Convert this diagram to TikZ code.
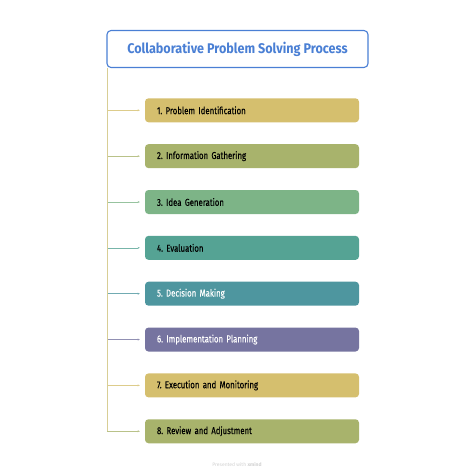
\documentclass[tikz,border=0pt]{standalone}
\usepackage{fontspec}
\setmainfont{Fira Sans}[FakeStretch=0.78,FakeBold=0.25,WordSpace=0.7]
\newfontfamily\titlefont{Fira Sans}[FakeStretch=0.9]
\newfontfamily\footfont{Fira Sans}
\usetikzlibrary{arrows.meta}
\definecolor{cA}{HTML}{D5BF6E}
\definecolor{cB}{HTML}{A8B36C}
\definecolor{cC}{HTML}{7DB487}
\definecolor{cD}{HTML}{55A394}
\definecolor{cE}{HTML}{4E969F}
\definecolor{cF}{HTML}{7674A0}
\definecolor{trunk}{HTML}{D8CE95}
\definecolor{titleblue}{HTML}{4A7FD4}
\tikzset{
  stepbox/.style={draw=none, rounded corners=3.5pt, minimum width=214pt, minimum height=24pt,
    text width=190pt, align=left, inner sep=0pt, font=\fontsize{10}{12}\selectfont},
  branch/.style={line width=0.6pt, -{Stealth[length=2.2pt,width=2pt]}},
  titlebox/.style={draw=titleblue, line width=1.1pt, rounded corners=4pt, minimum width=261pt,
    minimum height=37pt, inner sep=0pt, text=titleblue, font=\titlefont\bfseries\fontsize{14}{16}\selectfont}
}
\begin{document}
\frenchspacing
\begin{tikzpicture}[x=1pt,y=-1pt]
\useasboundingbox (0,0) rectangle (474,474);
\node[titlebox] (title) at (237.5,49) {Collaborative Problem Solving Process};
\coordinate (top) at (107,67.5);
\foreach \i/\t/\c/\tc in {1/1. Problem Identification/cA/black,
  2/2. Information Gathering/cB/black,
  3/3. Idea Generation/cC/black,
  4/4. Evaluation/cD/black,
  5/5. Decision Making/cE/white,
  6/6. Implementation Planning/cF/white,
  7/7. Execution and Monitoring/cA/black,
  8/8. Review and Adjustment/cB/black}{
  \node[stepbox, fill=\c, text=\tc] (n\i) at (252,{110.3+45.85*(\i-1)}) {\t};
  \coordinate (b\i) at (107,{110.3+45.85*(\i-1)});
  \draw[branch, draw=\c!80!white] (b\i) -- ([xshift=-5pt]n\i.west);
}
\draw[trunk, line width=0.8pt] (top) -- (b8);
\node[text=black!18, font=\footfont\fontsize{5}{6}\selectfont] (foot) at (237,464.5) {Presented with \textbf{xmind}};
\end{tikzpicture}
\end{document}
